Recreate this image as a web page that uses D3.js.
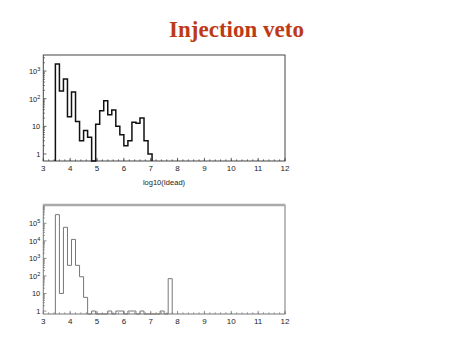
<!DOCTYPE html>
<html>
<head>
<meta charset="utf-8">
<script src="https://cdn.jsdelivr.net/npm/d3@7"></script>
<style>
  body { margin: 0; background: #fff; }
  svg text { font-family: "Liberation Sans", Arial, sans-serif; }
</style>
</head>
<body>
<div id="chart"></div>
<script>
// histogram definition: 60 bins from 3 to 12
const xMin = 3
const xMax = 12
const nBins = 60

// top histogram (log10(Idead)), counts per bin
const topCounts = [0, 0, 0, 1800, 190, 510, 22, 175, 15, 3, 7, 4, 0, 12, 37, 85, 26, 39, 10, 5,
  2, 3, 14, 13, 20, 3, 1, 0, 0, 0, 0, 0, 0, 0, 0, 0, 0, 0, 0, 0,
  0, 0, 0, 0, 0, 0, 0, 0, 0, 0, 0, 0, 0, 0, 0, 0, 0, 0, 0, 0]

// bottom histogram, counts per bin
const bottomCounts = [0, 0, 0, 310000, 10, 59000, 400, 12000, 400, 90, 6, 0, 1, 0, 0, 0, 1, 0, 1, 1,
  0, 1, 1, 0, 1, 0, 0, 0, 0, 1, 0, 70, 0, 0, 0, 0, 0, 0, 0, 0,
  0, 0, 0, 0, 0, 0, 0, 0, 0, 0, 0, 0, 0, 0, 0, 0, 0, 0, 0, 0]

const xTickValues = [3, 4, 5, 6, 7, 8, 9, 10, 11, 12]
const topYTicks = [1, 10, 100, 1000]
const bottomYTicks = [1, 10, 100, 1000, 10000, 100000]

const svg = d3.select("#chart").append("svg")
    .attr("width", 474)
    .attr("height", 355)

svg.append("text")
    .attr("x", 236.5)
    .attr("y", 37)
    .attr("text-anchor", "middle")
    .attr("fill", "#bd3a17")
    .style("font-family", "'Liberation Serif', 'Times New Roman', serif")
    .style("font-weight", "bold")
    .style("font-size", "23px")
    .text("Injection veto")

function yLabel(g, v){
    const p = Math.round(Math.log10(v))
    if (p === 0) { g.text("1"); return }
    if (p === 1) { g.text("10"); return }
    g.append("tspan").text("10")
    g.append("tspan").attr("dy", -3).style("font-size", "5.5px").text(p)
}

function draw_hist(opt){
    const x = d3.scaleLinear().domain([xMin, xMax]).range([opt.left, opt.right])
    const y = d3.scaleLog().domain(opt.yDomain).range([opt.bottom, opt.top])
    const g = svg.append("g")
    const binW = (xMax - xMin) / nBins

    // frame
    g.append("rect")
        .attr("x", opt.left).attr("y", opt.top)
        .attr("width", opt.right - opt.left).attr("height", opt.bottom - opt.top)
        .attr("fill", "none").attr("stroke", opt.frameColor).attr("stroke-width", 1)
    if (opt.topEdge) {
        g.append("line")
            .attr("x1", opt.left).attr("x2", opt.right)
            .attr("y1", opt.top).attr("y2", opt.top)
            .attr("stroke", "#aaa").attr("stroke-width", 2.5)
    }

    // x ticks, pointing up
    const minorX = d3.range(0, (xMax - xMin) / 0.2 + 1).map(i => xMin + i * 0.2)
    g.selectAll(".xminor").data(minorX).join("line")
        .attr("x1", d => x(d)).attr("x2", d => x(d))
        .attr("y1", opt.bottom).attr("y2", opt.bottom - 1.6)
        .attr("stroke", opt.frameColor).attr("stroke-width", 0.8)
    g.selectAll(".xmajor").data(xTickValues).join("line")
        .attr("x1", d => x(d)).attr("x2", d => x(d))
        .attr("y1", opt.bottom).attr("y2", opt.bottom - 3.2)
        .attr("stroke", opt.frameColor).attr("stroke-width", 0.8)
    g.selectAll(".xlab").data(xTickValues).join("text")
        .attr("x", d => x(d)).attr("y", opt.bottom + 9.5)
        .attr("text-anchor", "middle")
        .attr("fill", "#222")
        .style("font-size", "8px")
        .text(d => d)

    // y ticks, pointing right
    const minorY = []
    opt.yTicks.forEach(t => { for (let m = 2; m < 10; m++) minorY.push(t * m) })
    g.selectAll(".yminor").data(minorY.filter(v => v <= opt.yDomain[1])).join("line")
        .attr("x1", opt.left).attr("x2", opt.left + 1.6)
        .attr("y1", d => y(d)).attr("y2", d => y(d))
        .attr("stroke", opt.frameColor).attr("stroke-width", 0.8)
    g.selectAll(".ymajor").data(opt.yTicks).join("line")
        .attr("x1", opt.left).attr("x2", opt.left + 3.2)
        .attr("y1", d => y(d)).attr("y2", d => y(d))
        .attr("stroke", opt.frameColor).attr("stroke-width", 0.8)
    g.selectAll(".ylab").data(opt.yTicks).join("text")
        .attr("x", opt.left - 3).attr("y", d => y(d) + 3)
        .attr("text-anchor", "end")
        .attr("fill", "#222")
        .style("font-size", "7.5px")
        .each(function(d){ yLabel(d3.select(this), d) })

    // histogram outline, from first to last filled bin
    const floor = opt.yDomain[0]
    const filled = opt.counts.map((c, i) => c > 0 ? i : -1).filter(i => i >= 0)
    const first = d3.min(filled), last = d3.max(filled)
    const pts = [[xMin + first * binW, floor]]
    for (let i = first; i <= last; i++) {
        const v = opt.counts[i] > 0 ? opt.counts[i] : floor
        pts.push([xMin + i * binW, v], [xMin + (i + 1) * binW, v])
    }
    pts.push([xMin + (last + 1) * binW, floor])
    const line = d3.line().x(d => x(d[0])).y(d => y(d[1]))
    g.append("path")
        .datum(pts)
        .attr("d", line)
        .attr("fill", "none")
        .attr("stroke", opt.histColor)
        .attr("stroke-width", opt.histWidth)

    if (opt.xTitle) {
        g.append("text")
            .attr("x", 164).attr("y", opt.bottom + 24)
            .attr("text-anchor", "middle")
            .attr("fill", "#222")
            .style("font-size", "7.5px")
            .text(opt.xTitle)
    }
}

draw_hist({
    left: 43.3, right: 285, top: 55, bottom: 161,
    yDomain: [0.558, 3800], yTicks: topYTicks, counts: topCounts,
    frameColor: "#444", histColor: "#111", histWidth: 1.5,
    xTitle: "log10(Idead)"
})

draw_hist({
    left: 43.3, right: 285, top: 205, bottom: 314,
    yDomain: [0.676, 1.1e6], yTicks: bottomYTicks, counts: bottomCounts,
    frameColor: "#777", histColor: "#777", histWidth: 1, topEdge: true
})
</script>
</body>
</html>
